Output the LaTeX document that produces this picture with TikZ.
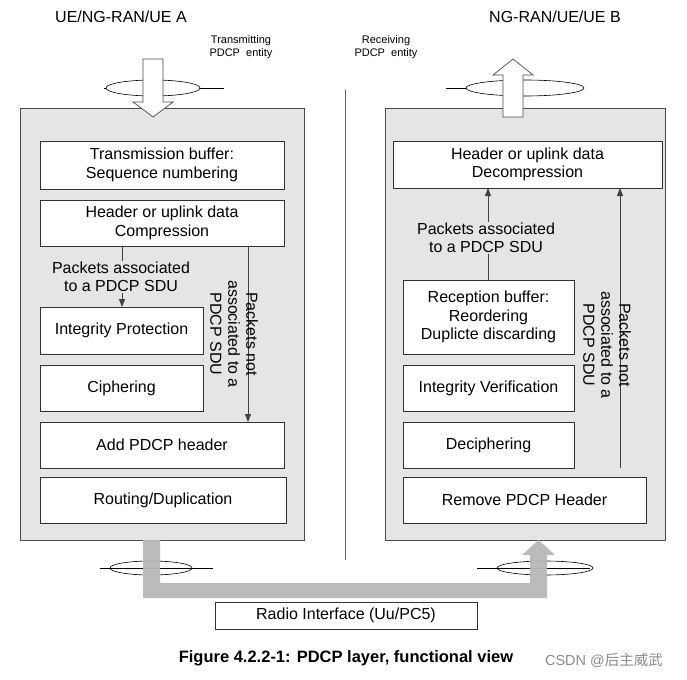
\documentclass[tikz,border=0pt]{standalone}
\usepackage{fontspec}
\setmainfont{Liberation Sans}
\newfontfamily\cjkf{Noto Sans CJK SC}
\usetikzlibrary{positioning,arrows.meta}
\begin{document}
\begin{tikzpicture}[x=1pt,y=-1pt,
  panel/.style={draw=black!70,fill=black!10,line width=0.8pt},
  box/.style={draw=black!80,fill=white,line width=0.8pt,align=center,font=\fontsize{16}{18.5}\selectfont,inner sep=0pt},
  arr/.style={draw=black!75,line width=0.8pt,-{Triangle[length=8pt,width=6pt]}},
  lbl/.style={align=center,font=\fontsize{16}{18}\selectfont},
  small/.style={align=center,font=\fontsize{11}{13}\selectfont},
  ell/.style={draw=black,line width=0.6pt}]
\useasboundingbox (0,0) rectangle (687,679);
\fill[white] (0,0) rectangle (687,679);
% panels
\draw[panel] (20,108) rectangle (304,540);
\draw[panel] (385,108) rectangle (665,540);
\draw[black!60,line width=0.8pt] (345,90) -- (345,560);
% left boxes
\node[box,minimum width=244,minimum height=48] (tb) at (162,165) {Transmission buffer:\\Sequence numbering};
\node[box,minimum width=244,minimum height=46] (hc) at (162,223) {Header or uplink data\\Compression};
\node[box,minimum width=163,minimum height=47] (ip) at (121.5,330.5) {Integrity Protection};
\node[box,minimum width=163,minimum height=46] (ci) at (121.5,388) {Ciphering};
\node[box,minimum width=244,minimum height=46] (ah) at (162,445) {Add PDCP header};
\node[box,minimum width=246,minimum height=46] (rd) at (163,500) {Routing/Duplication};
\coordinate (a1s) at (122,246); \coordinate (a1e) at (122,307);
\draw[arr] (a1s) -- (a1e);
\coordinate (a2s) at (248,246); \coordinate (a2e) at (248,422);
\draw[arr] (a2s) -- (a2e);
\node[lbl,fill=black!10,inner sep=1pt] (t1) at (121,277) {Packets associated\\to a PDCP SDU};
\node[lbl,rotate=-90] (t2) at (234,334) {Packets not\\associated to a\\PDCP SDU};
% right boxes
\node[box,minimum width=269,minimum height=47] (dc) at (527.5,164.5) {Header or uplink data\\Decompression};
\node[box,minimum width=171,minimum height=74] (rb) at (488.5,317) {Reception buffer:\\Reordering\\Duplicte discarding};
\node[box,minimum width=171,minimum height=46] (iv) at (488.5,388) {Integrity Verification};
\node[box,minimum width=171,minimum height=46] (de) at (488.5,445) {Deciphering};
\node[box,minimum width=243,minimum height=46] (rp) at (524.5,500) {Remove PDCP Header};
\coordinate (b1s) at (488,280); \coordinate (b1e) at (488,188);
\draw[arr] (b1s) -- (b1e);
\coordinate (b2s) at (620,468); \coordinate (b2e) at (620,188);
\draw[arr] (b2s) -- (b2e);
\node[lbl,fill=black!10,inner sep=1pt] (t3) at (486,238) {Packets associated\\to a PDCP SDU};
\node[lbl,rotate=-90] (t4) at (607,345) {Packets not\\associated to a\\PDCP SDU};
% top SAPs
\draw[ell] (104,88) -- (224,88);
\draw[ell,fill=white] (153,88) ellipse [x radius=47,y radius=8];
\draw[black!70,fill=white,line width=0.7pt] (143,59) -- (163,59) -- (163,102) -- (173,102) -- (153,117) -- (133,102) -- (143,102) -- cycle;
\draw[ell] (446,88) -- (570,88);
\draw[ell,fill=white] (525,88) ellipse [x radius=59,y radius=8];
\draw[black!70,fill=white,line width=0.7pt] (503,117) -- (523,117) -- (523,75) -- (533,75) -- (513,59) -- (493,75) -- (503,75) -- cycle;
% bottom
\draw[ell] (100,568) -- (213,568);
\draw[ell] (477,568) -- (590,568);
\draw[ell] (151,568) ellipse [x radius=41,y radius=7];
\draw[ell] (545,568) ellipse [x radius=48,y radius=7];
\fill[black!28,opacity=0.95] (143,540) -- (160,540) -- (160,583) -- (530,583) -- (530,555) -- (522,555) -- (538.5,540) -- (555,555) -- (547,555) -- (547,598) -- (143,598) -- cycle;
\node[box,minimum width=262,minimum height=27] (ri) at (346,615.5) {Radio Interface (Uu/PC5)};
% texts
\node[lbl] (ha) at (121,17) {UE/NG-RAN/UE A};
\node[lbl] (hb) at (555,17) {NG-RAN/UE/UE B};
\node[small] (tx) at (241,47) {Transmitting\\PDCP\ \ entity};
\node[small] (rx) at (386,47) {Receiving\\PDCP\ \ entity};
\node[font=\bfseries\fontsize{16.5}{18}\selectfont] (cap) at (346,658) {Figure 4.2.2-1: PDCP layer, functional view};
\node[font=\fontsize{14.5}{16}\selectfont,text=black!45] (wm) at (604,660) {CSDN @{\cjkf 后主威武}};
\end{tikzpicture}
\end{document}
